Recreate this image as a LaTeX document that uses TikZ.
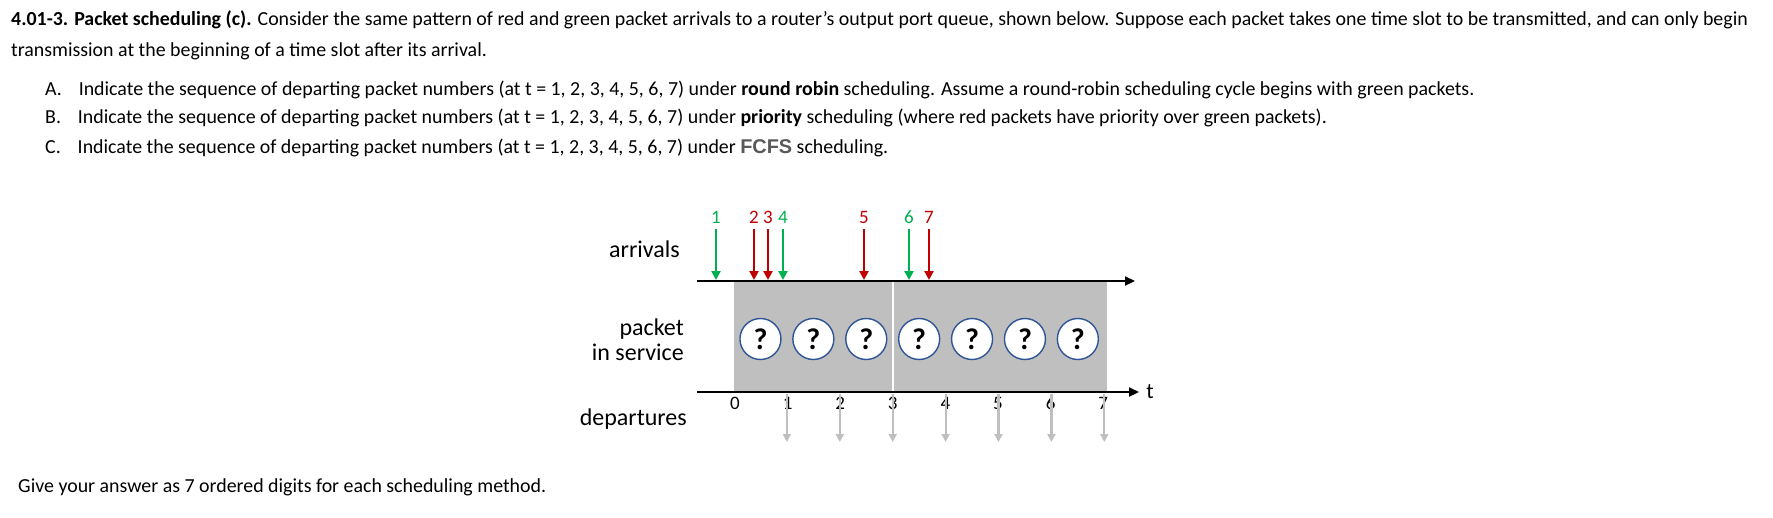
\documentclass[tikz,border=0pt]{standalone}
\usepackage{fontspec}
\setmainfont{Carlito}
\newfontfamily\arialf{Liberation Sans}
\usetikzlibrary{arrows.meta}
\definecolor{pgreen}{RGB}{0,176,80}
\definecolor{pred}{RGB}{192,0,0}
\definecolor{pblue}{RGB}{47,85,151}
\definecolor{pgray}{RGB}{191,191,191}
\definecolor{fcfs}{RGB}{89,89,89}
\begin{document}
\begin{tikzpicture}[x=1pt,y=-1pt,
  txt/.style={anchor=west,inner sep=0,font=\fontsize{19.9}{22}\selectfont},
  lab/.style={anchor=east,inner sep=0,align=right,font=\fontsize{24}{25}\selectfont},
  num/.style={inner sep=0,font=\fontsize{19}{19}\selectfont},
  arr/.style={line width=2.6pt,-{Triangle[length=9pt,width=9pt]}},
  dep/.style={line width=2.2pt,pgray,-{Triangle[length=8pt,width=8pt]}},
  q/.style={circle,draw=pblue,line width=1.4pt,fill=white,minimum size=41pt,inner sep=0,font=\fontsize{30}{30}\selectfont\bfseries}]
\useasboundingbox (0,0) rectangle (1773,517);
% text
\node[txt] (h1) at (11,20) {\textbf{4.01-3. Packet scheduling (c).} Consider the same pattern of red and green packet arrivals to a router’s output port queue, shown below. Suppose each packet takes one time slot to be transmitted, and can only begin};
\node[txt] (h2) at (11,51) {transmission at the beginning of a time slot after its arrival.};
\node[txt] (a) at (45,90) {A.\hspace{0.85em}Indicate the sequence of departing packet numbers (at t = 1, 2, 3, 4, 5, 6, 7) under \textbf{round robin} scheduling. Assume a round-robin scheduling cycle begins with green packets.};
\node[txt] (b) at (45,118) {B.\hspace{0.85em}Indicate the sequence of departing packet numbers (at t = 1, 2, 3, 4, 5, 6, 7) under \textbf{priority} scheduling (where red packets have priority over green packets).};
\node[txt] (c) at (45,148) {C.\hspace{0.85em}Indicate the sequence of departing packet numbers (at t = 1, 2, 3, 4, 5, 6, 7) under {\arialf\bfseries\color{fcfs}FCFS} scheduling.};
\node[txt] (g) at (18,487) {Give your answer as 7 ordered digits for each scheduling method.};
% box
\fill[pgray] (734,281) rectangle (1107,391);
\draw[white,line width=1.5pt] (893,281) -- (893,391);
% axes
\coordinate (a0) at (697,281); \coordinate (a1) at (1135,281);
\coordinate (b0) at (697,392); \coordinate (b1) at (1139,392);
\draw[line width=2.2pt,-{Triangle[length=10pt,width=9pt]}] (a0) -- (a1);
\draw[line width=2.2pt,-{Triangle[length=10pt,width=9pt]}] (b0) -- (b1);
\node[num,font=\fontsize{22}{22}\selectfont] (t) at (1150,392) {t};
% labels
\node[lab] (l1) at (680,249) {arrivals};
\node[lab] (l2) at (684,340) {packet\\in service};
\node[lab] (l3) at (687,419) {departures};
% ticks & departures
\foreach \i in {0,...,7}{
  \node[num] (k\i) at (735+\i*52.6,403) {\i};
}
\foreach \i in {1,...,7}{
  \coordinate (d\i) at (734+\i*52.9,394);
  \coordinate (e\i) at (734+\i*52.9,442);
  \draw[dep] (d\i) -- (e\i);
}
% circles
\foreach \i in {1,...,7}{
  \node[q] (c\i) at (734+\i*52.9-26.45,339) {?};
}
% arrivals
\foreach \x/\n/\c in {716/1/pgreen,754/2/pred,768/3/pred,783/4/pgreen,864/5/pred,909/6/pgreen,929/7/pred}{
  \node[num,text=\c] (n\n) at (\x,217) {\n};
  \coordinate (s\n) at (\x,229);
  \coordinate (f\n) at (\x,280);
  \draw[arr,\c] (s\n) -- (f\n);
}
\end{tikzpicture}
\end{document}
